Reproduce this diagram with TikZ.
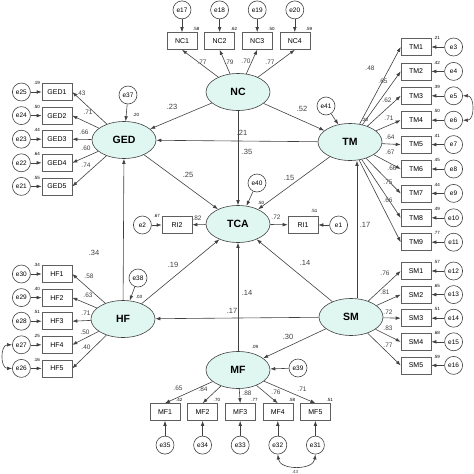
\documentclass[tikz,border=0pt]{standalone}
\usepackage{fontspec}
\setmainfont{Liberation Sans}
\usetikzlibrary{shapes, arrows.meta, positioning, calc}

\begin{document}
\begin{tikzpicture}[
    x=1pt, y=-1pt,
    >={Latex[length=5pt, width=3.6pt]},
    node distance=6pt,
    % Define colors
    /utils/exec={
        \definecolor{semCyan}{RGB}{224, 246, 241}
        \definecolor{semLine}{RGB}{65, 65, 65}
        \definecolor{semBox}{RGB}{95, 95, 95}
    },
    % Node Styles
    latent/.style={
        ellipse, draw=semLine, fill=semCyan, line width=0.6pt,
        minimum width=64pt, minimum height=37pt, inner sep=0pt,
        font=\fontsize{10.5}{12}\selectfont\bfseries
    },
    ind/.style={
        rectangle, draw=semBox, fill=white, line width=0.6pt,
        minimum width=30pt, minimum height=17pt, inner sep=0pt,
        font=\fontsize{7}{8}\selectfont
    },
    err/.style={
        circle, draw=semLine, fill=white, line width=0.6pt,
        minimum size=18pt, inner sep=0pt, font=\fontsize{6.5}{7}\selectfont
    },
    coef/.style={font=\fontsize{7.5}{8}\selectfont, inner sep=0pt},
    load/.style={font=\fontsize{6.5}{7}\selectfont, inner sep=0pt},
    rsq/.style={font=\fontsize{4.5}{5}\selectfont, inner sep=0.5pt},
    conn/.style={->, semLine, line width=0.6pt},
    cov/.style={<->, semLine, line width=0.6pt}
]

\useasboundingbox (0,0) rectangle (474,474);

% =================================================================
% LATENT FACTORS
% =================================================================
\node[latent] (NC) at (238, 92) {NC};
\node[latent] (GED) at (124, 140) {GED};
\node[latent] (TM) at (350, 142) {TM};
\node[latent] (TCA) at (238, 224) {TCA};
\node[latent] (HF) at (123, 319) {HF};
\node[latent] (SM) at (351, 317) {SM};
\node[latent] (MF) at (238, 370) {MF};

% --- Disturbances ---
\node[err] (e37) at (128, 95) {e37};
\node[err] (e41) at (326, 106) {e41};
\node[err] (e40) at (257, 183) {e40};
\node[err] (e38) at (138, 278) {e38};
\node[err] (e39) at (298, 368) {e39};

\node[rsq] (rGED) at ([xshift=12pt, yshift=6pt]GED.north) {.20};
\node[rsq] (rTM) at ([xshift=15pt, yshift=3.5pt]TM.north) {.20};
\node[rsq] (rTCA) at ([xshift=23pt, yshift=2.5pt]TCA.north) {.50};
\node[rsq] (rHF) at ([xshift=16pt, yshift=3.5pt]HF.north) {.03};
\node[rsq] (rMF) at ([xshift=17pt, yshift=4.5pt]MF.north) {.09};

% =================================================================
% INDICATORS
% =================================================================

% --- NC (top) ---
\node[ind] (NC1) at (182, 41) {NC1};
\node[ind, right=7pt of NC1] (NC2) {NC2};
\node[ind, right=7pt of NC2] (NC3) {NC3};
\node[ind, right=7pt of NC3] (NC4) {NC4};
\node[err, above=13pt of NC1] (e17) {e17};
\node[err, above=13pt of NC2] (e18) {e18};
\node[err, above=13pt of NC3] (e19) {e19};
\node[err, above=13pt of NC4] (e20) {e20};
\node[rsq, anchor=south] (rNC1) at ([xshift=-1pt, yshift=1pt]NC1.north east) {.58};
\node[rsq, anchor=south] (rNC2) at ([xshift=-1pt, yshift=1pt]NC2.north east) {.62};
\node[rsq, anchor=south] (rNC3) at ([xshift=-1pt, yshift=1pt]NC3.north east) {.50};
\node[rsq, anchor=south] (rNC4) at ([xshift=-1pt, yshift=1pt]NC4.north east) {.59};

% --- GED (left) ---
\node[ind] (GED1) at (57, 92) {GED1};
\node[ind, below=6pt of GED1] (GED2) {GED2};
\node[ind, below=6pt of GED2] (GED3) {GED3};
\node[ind, below=6pt of GED3] (GED4) {GED4};
\node[ind, below=6pt of GED4] (GED5) {GED5};
\node[err, left=11pt of GED1] (e25) {e25};
\node[err, left=11pt of GED2] (e24) {e24};
\node[err, left=11pt of GED3] (e23) {e23};
\node[err, left=11pt of GED4] (e22) {e22};
\node[err, left=11pt of GED5] (e21) {e21};
\node[rsq, anchor=east] (rGED1) at ([xshift=-1pt]GED1.north west) {.19};
\node[rsq, anchor=east] (rGED2) at ([xshift=-1pt]GED2.north west) {.50};
\node[rsq, anchor=east] (rGED3) at ([xshift=-1pt]GED3.north west) {.44};
\node[rsq, anchor=east] (rGED4) at ([xshift=-1pt]GED4.north west) {.64};
\node[rsq, anchor=east] (rGED5) at ([xshift=-1pt]GED5.north west) {.55};

% --- HF (left) ---
\node[ind] (HF1) at (57, 274) {HF1};
\node[ind, below=6pt of HF1] (HF2) {HF2};
\node[ind, below=6pt of HF2] (HF3) {HF3};
\node[ind, below=6pt of HF3] (HF4) {HF4};
\node[ind, below=6pt of HF4] (HF5) {HF5};
\node[err, left=11pt of HF1] (e30) {e30};
\node[err, left=11pt of HF2] (e29) {e29};
\node[err, left=11pt of HF3] (e28) {e28};
\node[err, left=11pt of HF4] (e27) {e27};
\node[err, left=11pt of HF5] (e26) {e26};
\node[rsq, anchor=east] (rHF1) at ([xshift=-1pt]HF1.north west) {.34};
\node[rsq, anchor=east] (rHF2) at ([xshift=-1pt]HF2.north west) {.40};
\node[rsq, anchor=east] (rHF3) at ([xshift=-1pt]HF3.north west) {.51};
\node[rsq, anchor=east] (rHF4) at ([xshift=-1pt]HF4.north west) {.25};
\node[rsq, anchor=east] (rHF5) at ([xshift=-1pt]HF5.north west) {.16};

% --- TM (right) ---
\node[ind] (TM1) at (416, 47) {TM1};
\node[ind, below=6.8pt of TM1] (TM2) {TM2};
\node[ind, below=6.8pt of TM2] (TM3) {TM3};
\node[ind, below=6.8pt of TM3] (TM4) {TM4};
\node[ind, below=6.8pt of TM4] (TM5) {TM5};
\node[ind, below=6.8pt of TM5] (TM6) {TM6};
\node[ind, below=6.8pt of TM6] (TM7) {TM7};
\node[ind, below=6.8pt of TM7] (TM8) {TM8};
\node[ind, below=6.8pt of TM8] (TM9) {TM9};
\node[err, right=13pt of TM1] (e3) {e3};
\node[err, right=13pt of TM2] (e4) {e4};
\node[err, right=13pt of TM3] (e5) {e5};
\node[err, right=13pt of TM4] (e6) {e6};
\node[err, right=13pt of TM5] (e7) {e7};
\node[err, right=13pt of TM6] (e8) {e8};
\node[err, right=13pt of TM7] (e9) {e9};
\node[err, right=13pt of TM8] (e10) {e10};
\node[err, right=13pt of TM9] (e11) {e11};
\node[rsq, anchor=west] (rTM1) at ([xshift=1.5pt]TM1.north east) {.21};
\node[rsq, anchor=west] (rTM2) at ([xshift=1.5pt]TM2.north east) {.42};
\node[rsq, anchor=west] (rTM3) at ([xshift=1.5pt]TM3.north east) {.39};
\node[rsq, anchor=west] (rTM4) at ([xshift=1.5pt]TM4.north east) {.50};
\node[rsq, anchor=west] (rTM5) at ([xshift=1.5pt]TM5.north east) {.41};
\node[rsq, anchor=west] (rTM6) at ([xshift=1.5pt]TM6.north east) {.45};
\node[rsq, anchor=west] (rTM7) at ([xshift=1.5pt]TM7.north east) {.44};
\node[rsq, anchor=west] (rTM8) at ([xshift=1.5pt]TM8.north east) {.49};
\node[rsq, anchor=west] (rTM9) at ([xshift=1.5pt]TM9.north east) {.77};

% --- SM (right) ---
\node[ind] (SM1) at (416, 271) {SM1};
\node[ind, below=6pt of SM1] (SM2) {SM2};
\node[ind, below=6pt of SM2] (SM3) {SM3};
\node[ind, below=6pt of SM3] (SM4) {SM4};
\node[ind, below=6pt of SM4] (SM5) {SM5};
\node[err, right=13pt of SM1] (e12) {e12};
\node[err, right=13pt of SM2] (e13) {e13};
\node[err, right=13pt of SM3] (e14) {e14};
\node[err, right=13pt of SM4] (e15) {e15};
\node[err, right=13pt of SM5] (e16) {e16};
\node[rsq, anchor=west] (rSM1) at ([xshift=1.5pt]SM1.north east) {.57};
\node[rsq, anchor=west] (rSM2) at ([xshift=1.5pt]SM2.north east) {.65};
\node[rsq, anchor=west] (rSM3) at ([xshift=1.5pt]SM3.north east) {.51};
\node[rsq, anchor=west] (rSM4) at ([xshift=1.5pt]SM4.north east) {.68};
\node[rsq, anchor=west] (rSM5) at ([xshift=1.5pt]SM5.north east) {.59};

% --- MF (bottom) ---
\node[ind] (MF1) at (165, 412) {MF1};
\node[ind, right=7pt of MF1] (MF2) {MF2};
\node[ind, right=7pt of MF2] (MF3) {MF3};
\node[ind, right=7pt of MF3] (MF4) {MF4};
\node[ind, right=7pt of MF4] (MF5) {MF5};
\node[err, below=15pt of MF1] (e35) {e35};
\node[err, below=15pt of MF2] (e34) {e34};
\node[err, below=15pt of MF3] (e33) {e33};
\node[err, below=15pt of MF4] (e32) {e32};
\node[err, below=15pt of MF5] (e31) {e31};
\node[rsq, anchor=south] (rMF1) at ([xshift=-1pt, yshift=1pt]MF1.north east) {.42};
\node[rsq, anchor=south] (rMF2) at ([xshift=-1pt, yshift=1pt]MF2.north east) {.70};
\node[rsq, anchor=south] (rMF3) at ([xshift=-1pt, yshift=1pt]MF3.north east) {.77};
\node[rsq, anchor=south] (rMF4) at ([xshift=-1pt, yshift=1pt]MF4.north east) {.58};
\node[rsq, anchor=south] (rMF5) at ([xshift=-1pt, yshift=1pt]MF5.north east) {.51};

% --- TCA (centre) ---
\node[ind] (RI2) at (177, 225) {RI2};
\node[ind] (RI1) at (303, 225) {RI1};
\node[err, left=10pt of RI2] (e2) {e2};
\node[err, right=11pt of RI1] (e1) {e1};
\node[rsq, anchor=east] (rRI2) at ([xshift=-1pt]RI2.north west) {.67};
\node[rsq, anchor=south] (rRI1) at ([xshift=-4pt, yshift=3pt]RI1.north east) {.51};

% =================================================================
% STRUCTURAL PATHS
% =================================================================
\draw[conn] (NC) -- (GED) node[coef] at (172, 107) {.23};
\draw[conn] (NC) -- (TM) node[coef] at (302, 109) {.52};
\draw[conn] (NC) -- (TCA) node[coef] at (247, 152) {.35};
\draw[conn] (TM) -- (GED) node[coef] at (242, 133) {.21};
\draw[conn] (GED) -- (TCA) node[coef] at (188, 175) {.25};
\draw[conn] (TM) -- (TCA) node[coef] at (289, 178) {.15};
\draw[conn] (HF) -- (GED) node[coef] at (94, 253) {.34};
\draw[conn] (HF) -- (TCA) node[coef] at (173, 265) {.19};
\draw[conn] (SM) -- (TCA) node[coef] at (305, 263) {.14};
\draw[conn] ([xshift=6pt]SM.north) -- ([xshift=6pt]SM.north |- TM.south) node[coef] at (365, 225) {.17};
\draw[conn] (MF) -- (TCA) node[coef] at (247, 293) {.14};
\draw[conn] (SM) -- (HF) node[coef] at (232, 311) {.17};
\draw[conn] (SM) -- (MF) node[coef] at (288, 337) {.30};

% disturbances
\draw[conn] (e37) -- (GED);
\draw[conn] (e41) -- (TM);
\draw[conn] (e40) -- (TCA);
\draw[conn] (e38) -- (HF);
\draw[conn] (e39) -- (MF);

% =================================================================
% MEASUREMENT PATHS
% =================================================================

% --- NC ---
\draw[conn] (NC) -- (NC1.south) node[load] at (202, 62) {.77};
\draw[conn] (NC) -- (NC2.south) node[load] at (229, 62) {.79};
\draw[conn] (NC) -- (NC3.south) node[load] at (246, 61) {.70};
\draw[conn] (NC) -- (NC4.south) node[load] at (270, 62) {.77};
\draw[conn] (e17) -- (NC1);
\draw[conn] (e18) -- (NC2);
\draw[conn] (e19) -- (NC3);
\draw[conn] (e20) -- (NC4);

% --- GED ---
\draw[conn] (GED) -- (GED1.east) node[load] at (81, 93) {.43};
\draw[conn] (GED) -- (GED2.east) node[load] at (88, 112) {.71};
\draw[conn] (GED) -- (GED3.east) node[load] at (84, 132) {.66};
\draw[conn] (GED) -- (GED4.east) node[load] at (86, 148) {.60};
\draw[conn] (GED) -- (GED5.east) node[load] at (86, 165) {.74};
\draw[conn] (e25) -- (GED1);
\draw[conn] (e24) -- (GED2);
\draw[conn] (e23) -- (GED3);
\draw[conn] (e22) -- (GED4);
\draw[conn] (e21) -- (GED5);

% --- HF ---
\draw[conn] (HF) -- (HF1.east) node[load] at (89, 276) {.58};
\draw[conn] (HF) -- (HF2.east) node[load] at (88, 295) {.63};
\draw[conn] (HF) -- (HF3.east) node[load] at (86, 313) {.71};
\draw[conn] (HF) -- (HF4.east) node[load] at (85, 332) {.50};
\draw[conn] (HF) -- (HF5.east) node[load] at (86, 347) {.40};
\draw[conn] (e30) -- (HF1);
\draw[conn] (e29) -- (HF2);
\draw[conn] (e28) -- (HF3);
\draw[conn] (e27) -- (HF4);
\draw[conn] (e26) -- (HF5);
\draw[cov] (e27.west) .. controls +(-12, 0) and +(-12, 0) .. (e26.west);

% --- TM ---
\draw[conn] (TM) -- (TM1.west) node[load] at (370, 68) {.48};
\draw[conn] (TM) -- (TM2.west) node[load] at (383, 81) {.65};
\draw[conn] (TM) -- (TM3.west) node[load] at (387, 100) {.62};
\draw[conn] (TM) -- (TM4.west) node[load] at (389, 118) {.71};
\draw[conn] (TM) -- (TM5.west) node[load] at (390, 137) {.64};
\draw[conn] (TM) -- (TM6.west) node[load] at (390, 152) {.67};
\draw[conn] (TM) -- (TM7.west) node[load] at (392, 168) {.66};
\draw[conn] (TM) -- (TM8.west) node[load] at (388, 182) {.75};
\draw[conn] (TM) -- (TM9.west) node[load] at (388, 200) {.66};
\draw[conn] (e3) -- (TM1);
\draw[conn] (e4) -- (TM2);
\draw[conn] (e5) -- (TM3);
\draw[conn] (e6) -- (TM4);
\draw[conn] (e7) -- (TM5);
\draw[conn] (e8) -- (TM6);
\draw[conn] (e9) -- (TM7);
\draw[conn] (e10) -- (TM8);
\draw[conn] (e11) -- (TM9);
\draw[cov] (e5.east) .. controls +(12, 0) and +(12, 0) .. (e6.east);

% --- SM ---
\draw[conn] (SM) -- (SM1.west) node[load] at (385, 273) {.76};
\draw[conn] (SM) -- (SM2.west) node[load] at (385, 292) {.81};
\draw[conn] (SM) -- (SM3.west) node[load] at (388, 312) {.72};
\draw[conn] (SM) -- (SM4.west) node[load] at (388, 328) {.83};
\draw[conn] (SM) -- (SM5.west) node[load] at (388, 345) {.77};
\draw[conn] (e12) -- (SM1);
\draw[conn] (e13) -- (SM2);
\draw[conn] (e14) -- (SM3);
\draw[conn] (e15) -- (SM4);
\draw[conn] (e16) -- (SM5);

% --- MF ---
\draw[conn] (MF) -- (MF1.north) node[load] at (178, 388) {.65};
\draw[conn] (MF) -- (MF2.north) node[load] at (203, 389) {.84};
\draw[conn] (MF) -- (MF3.north) node[load] at (247, 393) {.88};
\draw[conn] (MF) -- (MF4.north) node[load] at (276, 392) {.76};
\draw[conn] (MF) -- (MF5.north) node[load] at (302, 389) {.71};
\draw[conn] (e35) -- (MF1);
\draw[conn] (e34) -- (MF2);
\draw[conn] (e33) -- (MF3);
\draw[conn] (e32) -- (MF4);
\draw[conn] (e31) -- (MF5);
\draw[cov] (e32.south) .. controls +(2, 16) and +(-2, 16) .. (e31.south) node[rsq] at (295, 472) {.43};

% --- TCA ---
\draw[conn] (TCA) -- (RI2) node[load] at (197, 218) {.82};
\draw[conn] (TCA) -- (RI1) node[load] at (276, 217) {.72};
\draw[conn] (e2) -- (RI2);
\draw[conn] (e1) -- (RI1);

\end{tikzpicture}
\end{document}
